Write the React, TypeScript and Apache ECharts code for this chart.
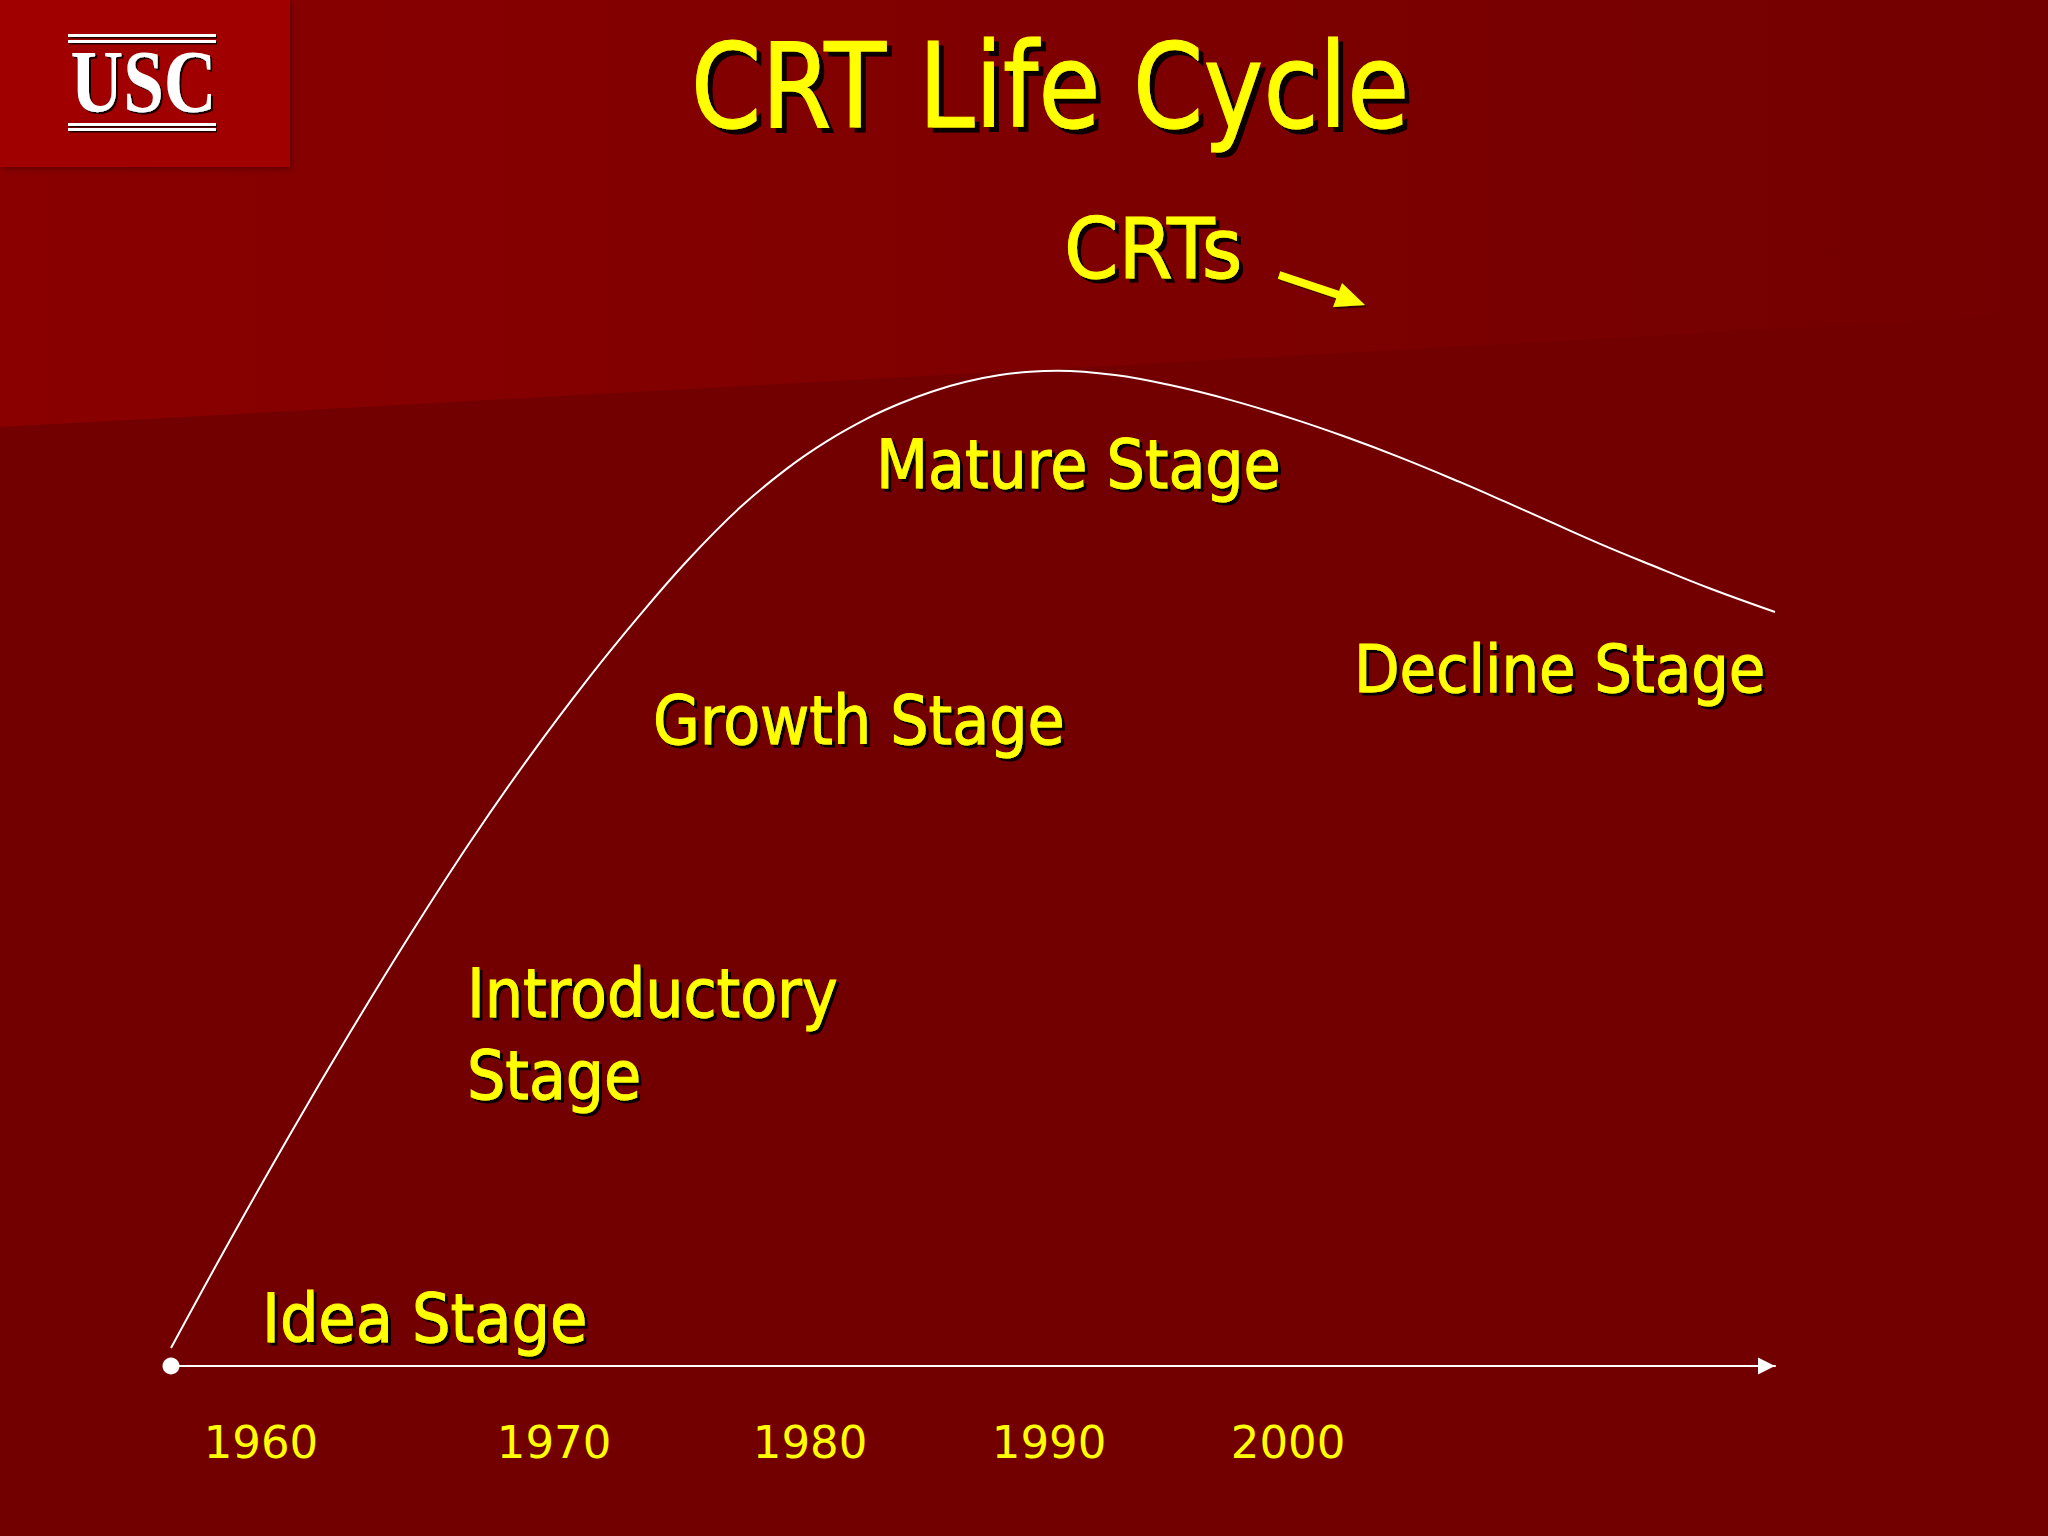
import React, { useEffect, useRef } from "react";
import * as echarts from "echarts";

// Life-cycle curve: position along the time axis (0–100) and relative volume (0–100)
const cyclePosition = [
  0, 3.68, 7.42, 11.16, 14.78, 18.64, 22.38, 26.12, 29.24, 32.23, 35.47, 38.4,
  40.9, 43.39, 45.45, 47.51, 49.56, 51.68, 53.55, 55.3, 58.85, 62.28, 66.02,
  69.76, 73.13, 76.62, 80.3, 83.17, 85.97, 89.09, 92.21, 95.95, 100,
];
const cycleVolume = [
  1.8, 12.58, 23.16, 33.34, 42.8, 52.38, 60.99, 68.96, 75.11, 80.6, 85.84, 89.74,
  92.49, 94.74, 96.25, 97.48, 98.42, 99.09, 99.42, 99.52, 99.09, 98.09, 96.61,
  94.81, 92.97, 90.86, 88.43, 86.43, 84.43, 82.22, 80.15, 77.75, 75.4,
];

// Decade labels and where they sit on the time axis
const yearLabels = ["1960", "1970", "1980", "1990", "2000"];
const yearPositions = [5.61, 23.88, 39.84, 54.74, 69.64];

const titleText = "CRT Life Cycle";
const productText = "CRTs";
const stageNames = ["Idea Stage", "Introductory\nStage", "Growth Stage", "Mature Stage", "Decline Stage"];

const YELLOW = "#ffff00";
const SANS = '"DejaVu Sans", Verdana, sans-serif';

// Yellow slide text with a dark drop shadow; y is the vertical centre of the capitals
function slideText(
  text: string,
  x: number,
  capCenterY: number,
  size: number,
  scaleX: number,
  align: "left" | "center" = "left",
  shadow = 3,
  lineHeight?: number
) {
  return {
    type: "text",
    x,
    y: capCenterY + 0.0185 * size,
    scaleX,
    z: 20,
    silent: true,
    style: {
      text,
      fill: YELLOW,
      font: `${size}px ${SANS}`,
      lineHeight: lineHeight ?? size,
      align,
      verticalAlign: "middle",
      textAlign: align,
      textVerticalAlign: "middle",
      stroke: YELLOW,
      lineWidth: 1,
      textShadowColor: "rgba(0,0,0,0.92)",
      textShadowOffsetX: shadow,
      textShadowOffsetY: shadow,
      textShadowBlur: 1,
    },
  };
}

function buildOption() {
  const curve = cyclePosition.map((p, i) => [p, cycleVolume[i]]);

  const graphic: any[] = [
    // lighter upper band of the slide background, fading out towards the right
    {
      type: "polygon",
      z: -20,
      silent: true,
      shape: { points: [[0, 0], [2048, 0], [2048, 314], [0, 427]] },
      style: {
        fill: {
          type: "linear",
          x: 0,
          y: 0,
          x2: 1,
          y2: 0,
          colorStops: [
            { offset: 0, color: "#8a0000" },
            { offset: 0.45, color: "#800000" },
            { offset: 1, color: "#730000" },
          ],
        },
      },
    },
    // university logo block
    {
      type: "rect",
      z: -10,
      silent: true,
      shape: { x: 0, y: 0, width: 290, height: 167 },
      style: {
        fill: "#a00000",
        shadowColor: "rgba(0,0,0,0.3)",
        shadowBlur: 6,
        shadowOffsetX: 2,
        shadowOffsetY: 2,
      },
    },
    ...[34, 40, 123, 128].map((yy) => ({
      type: "rect",
      z: -5,
      silent: true,
      shape: { x: 68, y: yy, width: 148, height: 3 },
      style: {
        fill: "#ffffff",
        shadowColor: "#1a0000",
        shadowOffsetX: 1,
        shadowOffsetY: 1.5,
        shadowBlur: 0,
      },
    })),
    {
      type: "text",
      x: 143.5,
      y: 81,
      scaleX: 0.83,
      z: -4,
      silent: true,
      style: {
        text: "USC",
        fill: "#ffffff",
        font: 'bold 88px "Liberation Serif", "Times New Roman", serif',
        align: "center",
        verticalAlign: "middle",
        textAlign: "center",
        textVerticalAlign: "middle",
        textShadowColor: "#1a0000",
        textShadowOffsetX: 2,
        textShadowOffsetY: 2,
        textShadowBlur: 1,
      },
    },
    // title and annotations
    slideText(titleText, 1050, 84.5, 117, 0.865, "center", 5),
    slideText(productText, 1064, 248, 83, 0.94, "left", 4),
    {
      type: "line",
      z: 20,
      silent: true,
      shape: { x1: 1279, y1: 275, x2: 1342, y2: 296 },
      style: { stroke: YELLOW, lineWidth: 8, shadowColor: "rgba(0,0,0,0.6)", shadowOffsetX: 2, shadowOffsetY: 2 },
    },
    {
      type: "polygon",
      z: 20,
      silent: true,
      shape: { points: [[1365, 305], [1333, 307], [1342, 283]] },
      style: { fill: YELLOW, shadowColor: "rgba(0,0,0,0.6)", shadowOffsetX: 2, shadowOffsetY: 2 },
    },
    slideText(stageNames[0], 262, 1317.5, 67, 0.905),
    slideText(stageNames[1], 467, 1033.5, 67, 0.9, "left", 3, 82),
    slideText(stageNames[2], 653, 720, 67, 0.9),
    slideText(stageNames[3], 876, 463.5, 67, 0.9),
    slideText(stageNames[4], 1354, 668.5, 66, 0.897),
  ];

  return {
    animation: false,
    backgroundColor: "#720000",
    grid: { left: 171, right: 273, top: 366, bottom: 170, containLabel: false },
    xAxis: {
      type: "value",
      min: 0,
      max: 100,
      splitLine: { show: false },
      axisTick: { show: false },
      axisLine: {
        show: true,
        onZero: false,
        symbol: ["circle", "triangle"],
        symbolSize: [17, 17],
        symbolOffset: [0, -8.5],
        lineStyle: { color: "#ffffff", width: 2 },
      },
      axisLabel: {
        show: true,
        customValues: yearPositions,
        margin: 54,
        color: YELLOW,
        fontFamily: SANS,
        fontSize: 45,
        lineHeight: 45,
        hideOverlap: false,
        formatter: (v: number) => {
          const i = yearPositions.findIndex((p) => Math.abs(p - v) < 1e-6);
          return i >= 0 ? yearLabels[i] : "";
        },
      },
    },
    yAxis: {
      type: "value",
      min: 0,
      max: 100,
      show: false,
    },
    series: [
      {
        type: "line",
        name: "CRTs",
        data: curve,
        smooth: 0.4,
        showSymbol: false,
        symbol: "none",
        silent: true,
        lineStyle: { color: "#ffffff", width: 2 },
        z: 5,
      },
    ],
    graphic,
  };
}

export default function App() {
  const ref = useRef<HTMLDivElement>(null);
  useEffect(() => {
    if (!ref.current) return;
    const chart = echarts.init(ref.current, null, { renderer: "svg" });
    chart.setOption(buildOption() as any);
    return () => chart.dispose();
  }, []);
  return (
    <div
      ref={ref}
      style={{ position: "absolute", left: 0, top: 0, width: 2048, height: 1536 }}
    />
  );
}
